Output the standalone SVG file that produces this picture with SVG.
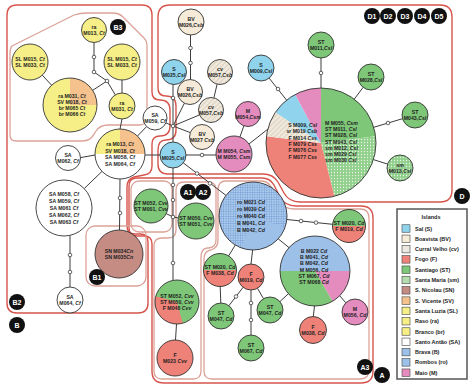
<svg xmlns="http://www.w3.org/2000/svg" width="474" height="389" viewBox="0 0 474 389">
<defs>
<pattern id="hatch" width="3.5" height="3.5" patternUnits="userSpaceOnUse" patternTransform="rotate(45)"><rect width="3.5" height="3.5" fill="#efe8dc"/><line x1="0" y1="0" x2="0" y2="3.5" stroke="#c9b597" stroke-width="0.9"/></pattern>
<pattern id="dots" width="3" height="3" patternUnits="userSpaceOnUse"><rect width="3" height="3" fill="#92d08d"/><circle cx="1.5" cy="1.5" r="0.65" fill="#eaf6e8"/></pattern>
<pattern id="grid" width="2.4" height="2.4" patternUnits="userSpaceOnUse"><rect width="2.4" height="2.4" fill="#acccef"/><path d="M0,0.3H2.4M0.3,0V2.4" stroke="#6f98d0" stroke-width="0.5"/></pattern>
<style>
.bo{fill:none;stroke:#d6544c;stroke-width:1.4}
.bi{fill:none;stroke:#dca297;stroke-width:1.3}
.c{stroke:#3d3d3d;stroke-width:1;fill:none}
.d{fill:#fff;stroke:#3d3d3d;stroke-width:0.8}
.o{fill:none;stroke:#333;stroke-width:0.9}
.nd{stroke:#333;stroke-width:0.9}
.fS{fill:#8fd3ec}.fBV{fill:#f6ead8}.fcv{fill:url(#hatch)}.fF{fill:#ee8278}.fST{fill:#7ec678}
.fsm{fill:url(#dots)}.fSN{fill:#c58c84}.fSV{fill:#f5c28e}.fY{fill:#f6ee86}.fSA{fill:#fff}
.fB{fill:#9dc0e8}.fro{fill:url(#grid)}.fM{fill:#e48cbd}
.t{font-family:"Liberation Sans",Arial,sans-serif;font-weight:bold;font-size:5.2px;fill:#1e1e1e;text-anchor:middle}
.e{text-anchor:end}.s{text-anchor:start}
.i{font-style:italic}
.lb{fill:#111}
.lt{font-family:"Liberation Sans",Arial,sans-serif;font-weight:bold;font-size:7px;fill:#fff;text-anchor:middle}
.lg{font-family:"Liberation Sans",Arial,sans-serif;font-weight:bold;font-size:5.5px;fill:#222}
</style>
</defs>
<rect width="474" height="389" fill="#fff"/>

<g id="boxes">
<path class="bo" d="M17,5 H142 Q152,5 152,15 V92 Q152,100 160,100 Q170,100 170,110 V126 Q170,136 160,136 Q152,136 152,144 V166 Q152,174 144,175 L134,177 Q127,179 127,187 V226 Q127,234 135,234 H140 Q148,234 148,242 V303 Q148,313 138,313 H17 Q7,313 7,303 V15 Q7,5 17,5 Z"/>
<path class="bo" d="M170,5 H440 Q452,5 452,17 V190 Q452,202 440,202 H300 Q289,202 284,193 L278,182 Q273,174 263,174 H168 Q158,174 158,164 V150 Q158,140 166,140 Q176,140 176,130 V106 Q176,96 166,96 Q158,96 158,88 V17 Q158,5 170,5 Z"/>
<path class="bo" d="M137,178 H262 Q270,178 274,185 L280,197 Q285,206 296,206 H361 Q373,206 373,218 V371 Q373,383 361,383 H164 Q152,383 152,371 V244 Q152,236 144,236 H137 Q129,236 129,228 V186 Q129,178 137,178 Z"/>
<path class="bi" d="M12,46 L74,15 Q80,13 87,13 H113 Q119,13 123,17 L144,38 Q147,41 147,46 V117 Q147,125 139,125 H108 Q100,125 96,131 L92,137 Q89,141 81,141 H16 Q10,141 10,135 V54 Q10,48 12,46 Z"/>
<rect class="bi" x="86" y="226" width="60" height="60" rx="9"/>
<rect class="bi" x="131" y="181" width="41" height="51" rx="8"/>
<path class="bi" d="M184,182 H208 Q216,182 216,190 V240 Q216,247 209,248 L207,248 Q201,249 201,257 V371 Q201,379 193,379 H162 Q154,379 154,371 V246 Q154,238 162,238 H168 Q176,238 176,230 V190 Q176,182 184,182 Z"/>
<path class="bi" d="M226,181 H262 Q268,181 272,188 L278,200 Q283,209 294,209 H360 Q369,209 369,218 V370 Q369,379 360,379 H212 Q204,379 204,371 V259 Q204,251 211,250 Q218,248 218,240 V190 Q218,181 226,181 Z"/>
</g>

<g id="connectors">
<path class="c" d="M94,42.5 V72 L107,81 L92.7,90.3 M107,81 L115.3,94.9 M122,80 V93 M42.3,75.2 L51.6,85.2 M122,119 L120,129 M80.5,157.6 L95,155 M84.2,188.6 L102,171.4 M70,235.3 V287 M120,179 L119.5,230 M137.4,136.1 L146.6,126.6 M166,122.9 L173,126 M145,155 H160 M186,155 H216"/>
<path class="c" d="M173,84.5 V142 M173,126 L190.3,132.6 M173,126 L184.4,103.2 M173,126 L199.5,114.9 M190.5,35 V79.5 M217.1,84.2 L213.9,97.8 M243.9,125.8 L239.9,137 M249,144 L268,129 M269.1,78.1 L286.6,100.1 M321,58 V88 M363.1,87.4 L354.2,99.2 M402.5,118.7 L373.7,127.3 M387.6,164.1 L373.4,159.6"/>
<path class="c" d="M183.3,162.9 L226,195.4 M173,168 V281 M173,217 L166.2,213.6 M173,217 L178.3,217.9 M176.5,324 L175.5,340 M286.8,219.5 L332.6,224.3 M278.2,238.8 L289,247.6 M252.6,250 L251,264 M235.3,245 L228.6,255.9 M243.1,287.3 L228.9,305.7 M251,290 V335 M257.5,288.3 L263.5,298.7 M220.2,286.5 L220.8,303 M279.9,301.6 L288.3,293.8 M314.5,306 L313.3,316.5 M339.7,295.7 L345.8,302.8"/>
<g>
<circle class="d" cx="94" cy="57" r="1.8"/><circle class="d" cx="94" cy="72" r="1.8"/><circle class="d" cx="107" cy="81" r="1.8"/>
<circle class="d" cx="70" cy="255" r="1.8"/><circle class="d" cx="70" cy="272" r="1.8"/>
<circle class="d" cx="120" cy="198" r="1.8"/><circle class="d" cx="120" cy="213" r="1.8"/>
<circle class="d" cx="202" cy="155" r="1.8"/><circle class="d" cx="173" cy="98" r="1.8"/><circle class="d" cx="173" cy="126" r="1.8"/>
<circle class="d" cx="190.5" cy="48" r="1.8"/><circle class="d" cx="190.5" cy="63" r="1.8"/>
<circle class="d" cx="278" cy="89" r="1.8"/><circle class="d" cx="321" cy="73" r="1.8"/><circle class="d" cx="388" cy="123" r="1.8"/>
<circle class="d" cx="197" cy="173.5" r="1.8"/><circle class="d" cx="210" cy="183.4" r="1.8"/>
<circle class="d" cx="173" cy="185" r="1.8"/><circle class="d" cx="173" cy="200" r="1.8"/><circle class="d" cx="173" cy="217" r="1.8"/><circle class="d" cx="173" cy="263" r="1.8"/>
<circle class="d" cx="301" cy="221" r="1.8"/><circle class="d" cx="316" cy="222.6" r="1.8"/>
<circle class="d" cx="236" cy="296.5" r="1.8"/><circle class="d" cx="251" cy="303" r="1.8"/><circle class="d" cx="251" cy="320" r="1.8"/>
</g>
</g>

<g id="n-raM013"><circle class="nd fY" cx="94" cy="30" r="12.5"/><text class="t" x="94" y="28.8">ra</text><text class="t" x="94" y="35">M013, <tspan class="i">Ct</tspan></text></g>
<g id="n-SL1"><circle class="nd fY" cx="30" cy="62" r="18"/><text class="t" x="30" y="60.8">SL M015, <tspan class="i">Ct</tspan></text><text class="t" x="30" y="67">SL M033, <tspan class="i">Ct</tspan></text></g>
<g id="n-SL2"><circle class="nd fY" cx="122" cy="62" r="18"/><text class="t" x="122" y="60.8">SL M015, <tspan class="i">Ct</tspan></text><text class="t" x="122" y="67">SL M033, <tspan class="i">Ct</tspan></text></g>
<g id="n-B3pie"><circle class="fY" cx="70" cy="105" r="27"/><path class="fSV" d="M70,105 L70,78 A27,27 0 0 1 97,105 Z"/><circle class="o" cx="70" cy="105" r="27"/>
<text class="t" x="72" y="97.5">ra M031, <tspan class="i">Ct</tspan></text><text class="t" x="72" y="103.8">SV M018, <tspan class="i">Ct</tspan></text><text class="t" x="72" y="110.1">br M065  <tspan class="i">Ct</tspan></text><text class="t" x="72" y="116.4">br M066  <tspan class="i">Ct</tspan></text></g>
<g id="n-raM031"><circle class="nd fY" cx="122" cy="106" r="13"/><text class="t" x="122" y="104.8">ra</text><text class="t" x="122" y="111">M031, <tspan class="i">Ct</tspan></text></g>
<g id="n-SAM059"><circle class="nd fSA" cx="155" cy="118" r="12"/><text class="t" x="155" y="116.8">SA</text><text class="t" x="155" y="123">M059, <tspan class="i">Cf</tspan></text></g>
<g id="n-center"><circle class="fSA" cx="120" cy="154" r="25"/><path class="fY" d="M120,154 L95,154 A25,25 0 0 1 120,129 Z"/><path class="fSV" d="M120,154 L120,129 A25,25 0 0 1 145,154 Z"/><circle class="o" cx="120" cy="154" r="25"/>
<text class="t" x="120" y="146.2">ra M013, <tspan class="i">Ct</tspan></text><text class="t" x="120" y="152.7">SV M018, <tspan class="i">Ct</tspan></text><text class="t" x="120" y="159.2">SA M058, <tspan class="i">Cf</tspan></text><text class="t" x="120" y="165.7">SA M064, <tspan class="i">Cf</tspan></text></g>
<g id="n-SAM062"><circle class="nd fSA" cx="68" cy="158" r="12.5"/><text class="t" x="68" y="156.8">SA</text><text class="t" x="68" y="163">M062, <tspan class="i">Cf</tspan></text></g>
<g id="n-SAbig"><circle class="nd fSA" cx="64" cy="208" r="28"/>
<text class="t" x="64" y="196.3">SA M058, <tspan class="i">Cf</tspan></text><text class="t" x="64" y="203.1">SA M059, <tspan class="i">Cf</tspan></text><text class="t" x="64" y="209.9">SA M061  <tspan class="i">Cf</tspan></text><text class="t" x="64" y="216.7">SA M062, <tspan class="i">Cf</tspan></text><text class="t" x="64" y="223.5">SA M063  <tspan class="i">Cf</tspan></text></g>
<g id="n-SAM064"><circle class="nd fSA" cx="70" cy="300" r="13"/><text class="t" x="70" y="298.8">SA</text><text class="t" x="70" y="305">M064, <tspan class="i">Cf</tspan></text></g>
<g id="n-SN"><circle class="nd fSN" cx="119" cy="254" r="24"/><text class="t" x="119" y="252.8">SN M034<tspan class="i">Cn</tspan></text><text class="t" x="119" y="259">SN M035<tspan class="i">Cn</tspan></text></g>

<g id="n-BVM026a"><circle class="nd fBV" cx="191" cy="22" r="13"/><text class="t" x="191" y="20.8">BV</text><text class="t" x="191" y="27">M026,<tspan class="i">Csb</tspan></text></g>
<g id="n-SM025a"><circle class="nd fS" cx="174" cy="72" r="12.5"/><text class="t" x="174" y="70.8">S</text><text class="t" x="174" y="77">M025,<tspan class="i">Csl</tspan></text></g>
<g id="n-cvM057a"><circle class="nd fcv" cx="220" cy="72" r="12.5"/><text class="t" x="220" y="70.8">cv</text><text class="t" x="220" y="77">M057,<tspan class="i">Csb</tspan></text></g>
<g id="n-BVM026b"><circle class="nd fBV" cx="190" cy="92" r="12.5"/><text class="t" x="190" y="90.8">BV</text><text class="t" x="190" y="97">M026,<tspan class="i">Csb</tspan></text></g>
<g id="n-cvM057b"><circle class="nd fcv" cx="211" cy="110" r="12.5"/><text class="t" x="211" y="108.8">cv</text><text class="t" x="211" y="115">M057,<tspan class="i">Csb</tspan></text></g>
<g id="n-BVM027"><circle class="nd fBV" cx="202" cy="137" r="12.5"/><text class="t" x="202" y="135.8">BV</text><text class="t" x="202" y="142">M027 <tspan class="i">Csb</tspan></text></g>
<g id="n-SM025b"><circle class="nd fS" cx="173" cy="155" r="13"/><text class="t" x="173" y="153.8">S</text><text class="t" x="173" y="160">M025,<tspan class="i">Csl</tspan></text></g>
<g id="n-SM009"><circle class="nd fS" cx="261" cy="68" r="13"/><text class="t" x="261" y="66.8">S</text><text class="t" x="261" y="73">M009,<tspan class="i">Csl</tspan></text></g>
<g id="n-MM054"><circle class="nd fM" cx="248" cy="114" r="12.5"/><text class="t" x="248" y="112.8">M</text><text class="t" x="248" y="119">M054,<tspan class="i">Csm</tspan></text></g>
<g id="n-MM054-55"><circle class="nd fM" cx="234" cy="154" r="18"/><text class="t" x="234" y="152.8">M M054, <tspan class="i">Csm</tspan></text><text class="t" x="234" y="159">M M055, <tspan class="i">Csm</tspan></text></g>
<g id="n-STM011"><circle class="nd fST" cx="321" cy="45" r="13"/><text class="t" x="321" y="43.8">ST</text><text class="t" x="321" y="50">M011,<tspan class="i">Csl</tspan></text></g>
<g id="n-STM028"><circle class="nd fST" cx="371" cy="77" r="13"/><text class="t" x="371" y="75.8">ST</text><text class="t" x="371" y="82">M028,<tspan class="i">Csl</tspan></text></g>
<g id="n-STM043"><circle class="nd fST" cx="415" cy="115" r="13"/><text class="t" x="415" y="113.8">ST</text><text class="t" x="415" y="120">M043,<tspan class="i">Csl</tspan></text></g>
<g id="n-smM013"><circle class="nd fsm" cx="400" cy="168" r="13"/><text class="t" x="400" y="166.8">sm</text><text class="t" x="400" y="173">M013,<tspan class="i">Csl</tspan></text></g>
<g id="n-Dpie">
<path class="fST" d="M321,143 L321,88 A55,55 0 0 1 375.59,136.3 Z"/>
<path class="fsm" d="M321,143 L375.59,136.3 A55,55 0 0 1 334.31,196.37 Z"/>
<path class="fF" d="M321,143 L334.31,196.37 A55,55 0 0 1 266.41,136.3 Z"/>
<path class="fcv" d="M321,143 L266.41,136.3 A55,55 0 0 1 275.4,112.25 Z"/>
<path class="fS" d="M321,143 L275.4,112.25 A55,55 0 0 1 295.18,94.44 Z"/>
<path class="fM" d="M321,143 L295.18,94.44 A55,55 0 0 1 321,88 Z"/>
<circle class="o" cx="321" cy="143" r="55"/>
<text class="t e" x="317" y="127">S M009, <tspan class="i">Csl</tspan></text>
<text class="t e" x="317" y="133.3">sr M019 <tspan class="i">Csb</tspan></text>
<text class="t e" x="317" y="139.6">F M014 <tspan class="i">Css</tspan></text>
<text class="t e" x="317" y="145.9">F M079 <tspan class="i">Css</tspan></text>
<text class="t e" x="317" y="152.2">F M076 <tspan class="i">Css</tspan></text>
<text class="t e" x="317" y="158.5">F M077 <tspan class="i">Css</tspan></text>
<text class="t s" x="325" y="125">M M055, <tspan class="i">Csm</tspan></text>
<text class="t s" x="325" y="131.2">ST M011, <tspan class="i">Csl</tspan></text>
<text class="t s" x="325" y="137.4">ST M028, <tspan class="i">Csl</tspan></text>
<text class="t s" x="325" y="143.6">ST M043, <tspan class="i">Csl</tspan></text>
<text class="t s" x="325" y="149.8">sm M012, <tspan class="i">Csl</tspan></text>
<text class="t s" x="325" y="156">sm M029 <tspan class="i">Csl</tspan></text>
<text class="t s" x="325" y="162.2">sm M030 <tspan class="i">Csl</tspan></text>
</g>

<g id="n-STM052-001"><circle class="nd fST" cx="151" cy="206" r="17"/><text class="t" x="151" y="204.8">ST M052, <tspan class="i">Cvv</tspan></text><text class="t" x="151" y="211">ST M001, <tspan class="i">Cvv</tspan></text></g>
<g id="n-STM050-051"><circle class="nd fST" cx="196" cy="221" r="18"/><text class="t" x="196" y="219.8">ST M050, <tspan class="i">Cvv</tspan></text><text class="t" x="196" y="226">ST M051, <tspan class="i">Cvv</tspan></text></g>
<g id="n-Cvv"><circle class="fST" cx="177" cy="302" r="22"/><path class="fF" d="M177,302 L182.69,323.25 A22,22 0 0 1 155.75,296.31 Z"/><circle class="o" cx="177" cy="302" r="22"/>
<text class="t" x="177" y="297.6">ST M052, <tspan class="i">Cvv</tspan></text><text class="t" x="177" y="303.9">ST M050, <tspan class="i">Cvv</tspan></text><text class="t" x="177" y="310.2">F M048  <tspan class="i">Cvv</tspan></text></g>
<g id="n-FM023"><circle class="nd fF" cx="175" cy="358" r="18"/><text class="t" x="175" y="356.8">F</text><text class="t" x="175" y="363">M023 <tspan class="i">Cvv</tspan></text></g>
<g id="n-ro"><circle class="fro" cx="253" cy="216" r="34"/><path class="fB" d="M253,216 L284.95,227.63 A34,34 0 0 1 241.37,247.95 Z"/><circle class="o" cx="253" cy="216" r="34"/>
<text class="t" x="251" y="204.3">ro M021  <tspan class="i">Cd</tspan></text><text class="t" x="251" y="211.1">ro M039  <tspan class="i">Cd</tspan></text><text class="t" x="251" y="217.9">ro M040  <tspan class="i">Cd</tspan></text><text class="t" x="251" y="224.7">B M041, <tspan class="i">Cd</tspan></text><text class="t" x="251" y="231.5">B M042, <tspan class="i">Cd</tspan></text></g>
<g id="n-STM020-FM038"><circle class="fST" cx="220" cy="270" r="16.5"/><path class="fF" d="M203.5,270 A16.5,16.5 0 0 0 236.5,270 Z"/><circle class="o" cx="220" cy="270" r="16.5"/>
<text class="t" x="220" y="268.8">ST M020, <tspan class="i">Cd</tspan></text><text class="t" x="220" y="275">F M038, <tspan class="i">Cd</tspan></text></g>
<g id="n-FM019"><circle class="nd fF" cx="251" cy="277" r="13"/><text class="t" x="251" y="275.8">F</text><text class="t" x="251" y="282">M019, <tspan class="i">Cd</tspan></text></g>
<g id="n-STM047a"><circle class="nd fST" cx="221" cy="316" r="13"/><text class="t" x="221" y="314.8">ST</text><text class="t" x="221" y="321">M047, <tspan class="i">Cd</tspan></text></g>
<g id="n-STM047b"><circle class="nd fST" cx="270" cy="310" r="13"/><text class="t" x="270" y="308.8">ST</text><text class="t" x="270" y="315">M047, <tspan class="i">Cd</tspan></text></g>
<g id="n-STM067"><circle class="nd fST" cx="251" cy="348" r="13"/><text class="t" x="251" y="346.8">ST</text><text class="t" x="251" y="353">M067, <tspan class="i">Cd</tspan></text></g>
<g id="n-BM022"><path class="fB" d="M315,271 L280,271 A35,35 0 0 1 350,271 Z"/><path class="fM" d="M315,271 L350,271 A35,35 0 0 1 332.5,301.31 Z"/><path class="fST" d="M315,271 L332.5,301.31 A35,35 0 0 1 280,271 Z"/><circle class="o" cx="315" cy="271" r="35"/>
<text class="t" x="314" y="253">B M022  <tspan class="i">Cd</tspan></text><text class="t" x="314" y="259.2">B M041, <tspan class="i">Cd</tspan></text><text class="t" x="314" y="265.4">B M042, <tspan class="i">Cd</tspan></text><text class="t" x="314" y="271.6">M M056, <tspan class="i">Cd</tspan></text><text class="t" x="314" y="277.8">ST M067, <tspan class="i">Cd</tspan></text><text class="t" x="314" y="284">ST M068  <tspan class="i">Cd</tspan></text></g>
<g id="n-FM038"><circle class="nd fF" cx="313" cy="330" r="13.5"/><text class="t" x="313" y="328.8">F</text><text class="t" x="313" y="335">M038, <tspan class="i">Cd</tspan></text></g>
<g id="n-MM056"><circle class="nd fM" cx="355" cy="312" r="13"/><text class="t" x="355" y="310.8">M</text><text class="t" x="355" y="317">M056, <tspan class="i">Cd</tspan></text></g>
<g id="n-STM020-FM019"><circle class="fST" cx="349" cy="226" r="16.5"/><path class="fF" d="M332.5,226 A16.5,16.5 0 0 0 365.5,226 Z"/><circle class="o" cx="349" cy="226" r="16.5"/>
<text class="t" x="349" y="224.8">ST M020, <tspan class="i">Cd</tspan></text><text class="t" x="349" y="231">F M019, <tspan class="i">Cd</tspan></text></g>

<g id="labels">
<circle class="lb" cx="118" cy="27" r="8"/><text class="lt" x="118" y="29.6">B3</text>
<circle class="lb" cx="97" cy="277" r="8"/><text class="lt" x="97" y="279.6">B1</text>
<circle class="lb" cx="17" cy="302" r="8"/><text class="lt" x="17" y="304.6">B2</text>
<circle class="lb" cx="17" cy="325" r="8"/><text class="lt" x="17" y="327.6">B</text>
<circle class="lb" cx="188" cy="192" r="8"/><text class="lt" x="188" y="194.6">A1</text>
<circle class="lb" cx="203" cy="192" r="8"/><text class="lt" x="203" y="194.6">A2</text>
<circle class="lb" cx="365" cy="367" r="8"/><text class="lt" x="365" y="369.6">A3</text>
<circle class="lb" cx="382" cy="375" r="8"/><text class="lt" x="382" y="377.6">A</text>
<circle class="lb" cx="462" cy="196" r="8"/><text class="lt" x="462" y="198.6">D</text>
<circle class="lb" cx="372" cy="16" r="8"/><text class="lt" x="372" y="18.6">D1</text>
<circle class="lb" cx="388" cy="16" r="8"/><text class="lt" x="388" y="18.6">D2</text>
<circle class="lb" cx="405" cy="16" r="8"/><text class="lt" x="405" y="18.6">D3</text>
<circle class="lb" cx="422" cy="16" r="8"/><text class="lt" x="422" y="18.6">D4</text>
<circle class="lb" cx="439" cy="16" r="8"/><text class="lt" x="439" y="18.6">D5</text>
</g>

<g id="legend">
<rect x="397" y="209" width="70" height="170" fill="#fff" stroke="#555" stroke-width="1.5"/>
<text class="lg" x="431" y="219" text-anchor="middle" font-size="6">Islands</text>
<g stroke="#444" stroke-width="0.6">
<rect class="fS" x="402" y="224.75" width="8" height="7.5"/>
<rect class="fBV" x="402" y="235.05" width="8" height="7.5"/>
<rect fill="#ece7e0" x="402" y="245.35" width="8" height="7.5"/>
<rect class="fF" x="402" y="255.65" width="8" height="7.5"/>
<rect class="fST" x="402" y="265.95" width="8" height="7.5"/>
<rect fill="#b4dcae" x="402" y="276.25" width="8" height="7.5"/>
<rect class="fSN" x="402" y="286.55" width="8" height="7.5"/>
<rect class="fSV" x="402" y="296.85" width="8" height="7.5"/>
<rect class="fY" x="402" y="307.15" width="8" height="7.5"/>
<rect class="fY" x="402" y="317.45" width="8" height="7.5"/>
<rect class="fY" x="402" y="327.75" width="8" height="7.5"/>
<rect class="fSA" x="402" y="338.05" width="8" height="7.5"/>
<rect class="fB" x="402" y="348.35" width="8" height="7.5"/>
<rect class="fB" x="402" y="358.65" width="8" height="7.5"/>
<rect class="fM" x="402" y="368.95" width="8" height="7.5"/>
</g>
<text class="lg" x="415" y="230.5">Sal (S)</text>
<text class="lg" x="415" y="240.8">Boavista (BV)</text>
<text class="lg" x="415" y="251.1">Curral Velho (cv)</text>
<text class="lg" x="415" y="261.4">Fogo (F)</text>
<text class="lg" x="415" y="271.7">Santiago (ST)</text>
<text class="lg" x="415" y="282">Santa Maria (sm)</text>
<text class="lg" x="415" y="292.3">S. Nicolau (SN)</text>
<text class="lg" x="415" y="302.6">S. Vicente (SV)</text>
<text class="lg" x="415" y="312.9">Santa Luzia (SL)</text>
<text class="lg" x="415" y="323.2">Raso (ra)</text>
<text class="lg" x="415" y="333.5">Branco (br)</text>
<text class="lg" x="415" y="343.8">Santo Antão (SA)</text>
<text class="lg" x="415" y="354.1">Brava (B)</text>
<text class="lg" x="415" y="364.4">Rombos (ro)</text>
<text class="lg" x="415" y="374.7">Maio (M)</text>
</g>
</svg>
